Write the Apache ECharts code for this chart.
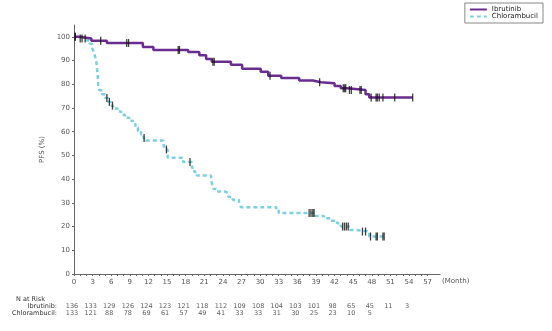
<!DOCTYPE html>
<html>
<head>
<meta charset="utf-8">
<script src="https://cdn.jsdelivr.net/npm/echarts@6/dist/echarts.min.js"></script>
<style>
html,body{margin:0;padding:0;background:#fff;}
#chart{width:552px;height:331px;}
</style>
</head>
<body>
<div id="chart"></div>
<script>
// Kaplan-Meier step points [month, PFS %]
const ibrutinibCurve = [
  [0,100],[0.8,99.3],[2.8,98.4],[5.3,97.4],[11.1,95.7],[12.8,94.5],[18.4,93.6],
  [20.2,92.2],[21.3,90.7],[22.2,89.5],[25.3,88.2],[27.1,86.5],[30.1,85.3],[31.3,83.6],
  [33.4,82.7],[36.3,81.6],[38.5,80.9],[39.8,80.4],[42.0,79.3],[43.0,78.3],[44.1,77.6],
  [47.0,75.8],[47.6,74.4],[54.6,74.4]
];
const ibrutinibCensored = [
  [0.2,100],[1.0,99.3],[1.3,99.3],[1.8,99.3],[4.3,98.4],[8.5,97.4],[8.8,97.4],
  [16.8,94.5],[17.0,94.5],[22.4,89.5],[22.6,89.5],[31.6,83.6],[39.6,80.9],
  [43.4,78.3],[43.6,78.3],[43.8,78.3],[44.4,77.6],[44.7,77.6],[46.1,77.6],[46.3,77.6],
  [47.9,74.4],[48.7,74.4],[48.9,74.4],[49.2,74.4],[49.8,74.4],[51.7,74.4],[54.6,74.4]
];
const chlorambucilCurve = [
  [0,100],[1.0,99.6],[2.0,98.5],[2.5,97.1],[2.9,95.5],[3.2,93.5],[3.4,91.7],[3.6,89.5],
  [3.7,87.0],[3.8,84.5],[3.85,82.0],[3.9,79.6],[4.1,77.5],[4.5,75.8],[5.0,74.2],[5.5,72.6],
  [5.9,71.0],[6.3,69.8],[7.0,68.5],[7.6,67.2],[8.2,65.9],[8.9,64.6],[9.5,63.3],[9.9,61.8],
  [10.3,60.2],[10.8,58.8],[11.2,57.4],[11.6,56.3],[14.4,55.0],[14.6,52.5],[15.1,49.0],
  [17.6,47.2],[19.0,44.8],[19.4,43.0],[19.8,41.5],[22.1,39.5],[22.3,37.5],[22.5,35.8],
  [23.0,34.8],[24.3,34.0],[24.9,32.5],[25.6,31.2],[26.6,30.2],[26.9,28.2],[32.6,27.1],
  [33.0,25.7],[38.9,24.5],[40.3,23.5],[41.3,22.5],[42.4,21.4],[43.0,20.0],[44.5,18.6],
  [45.3,17.9],[47.6,15.8],[50.1,15.8]
];
const chlorambucilCensored = [
  [0.2,100],[5.3,74.2],[5.7,72.6],[6.2,71.0],[11.3,57.4],[14.9,52.5],[18.7,47.2],
  [37.9,25.7],[38.2,25.7],[38.5,25.7],[38.7,25.7],
  [43.3,20.0],[43.6,20.0],[43.9,20.0],[44.2,20.0],
  [46.5,17.9],[47.0,17.9],[47.8,15.8],[48.7,15.8],[48.9,15.8],[49.8,15.8],[50.0,15.8]
];
// Number at risk
const riskMonths = [0,3,6,9,12,15,18,21,24,27,30,33,36,39,42,45,48,51,54];
const ibrutinibRisk = [136,133,129,126,124,123,121,118,112,109,108,104,103,101,98,65,45,11,3];
const chlorambucilRisk = [133,121,88,78,69,61,57,49,41,33,33,31,30,25,23,10,5];
// Axis ticks
const xTickLabels = [0,3,6,9,12,15,18,21,24,27,30,33,36,39,42,45,48,51,54,57];
const xMinorTicks = [0,1,2,3,4,5,6,7,8,9,10,11,12,13,14,15,16,17,18,19,20,21,22,23,24,25,26,27,28,29,30,31,32,33,34,35,36,37,38,39,40,41,42,43,44,45,46,47,48,49,50,51,52,53,54,55,56,57];
const yTickLabels = [0,10,20,30,40,50,60,70,80,90,100];

const FONT = 'DejaVu Sans';
const PURPLE = '#6a2c8e';
const BLUE = '#7fcfe4';
const AXIS = '#666';

const chart = echarts.init(document.getElementById('chart'), null, {renderer:'canvas'});

const hiddenX = (gi) => ({gridIndex:gi, type:'value', min:0, max:59, show:false});
const rowY = (gi, name) => ({
  gridIndex:gi, type:'category', data:[name],
  axisLine:{show:false}, axisTick:{show:false},
  axisLabel:{show:true, margin:17, fontFamily:FONT, fontSize:6.5, color:'#333'}
});
const riskLabel = {
  show:true, position:'inside', offset:[-2,0],
  formatter:(p)=>String(p.value[2]), fontFamily:FONT, fontSize:6.5, color:'#333'
};

chart.setOption({
  animation:false,
  backgroundColor:'#fff',
  title:{
    text:'N at Risk', left:11, top:291,
    textStyle:{fontFamily:FONT, fontSize:6.5, fontWeight:'normal', color:'#333'}
  },
  legend:{
    data:['Ibrutinib','Chlorambucil'],
    orient:'vertical', right:9, top:3,
    borderColor:'#888', borderWidth:1, padding:[3,5,3,4],
    itemGap:0, itemWidth:17, itemHeight:6,
    itemStyle:{opacity:0},
    textStyle:{fontFamily:FONT, fontSize:7, color:'#222'}
  },
  grid:[
    {left:74, right:112, top:25, bottom:57},
    {left:74, right:112, top:305, height:2},
    {left:74, right:112, top:312, height:2}
  ],
  xAxis:[
    {
      gridIndex:0, type:'value', min:0, max:59,
      name:'(Month)', nameLocation:'end', nameGap:2,
      nameTextStyle:{fontFamily:FONT, fontSize:7, color:'#555', verticalAlign:'top', padding:[4,0,0,0]},
      axisLine:{lineStyle:{color:AXIS, width:1}},
      axisTick:{show:true, length:2, lineStyle:{color:AXIS}, customValues:xMinorTicks},
      axisLabel:{fontFamily:FONT, fontSize:7, color:'#555', margin:5, customValues:xTickLabels},
      splitLine:{show:false}
    },
    hiddenX(1), hiddenX(2)
  ],
  yAxis:[
    {
      gridIndex:0, type:'value', min:0, max:105,
      name:'PFS (%)', nameLocation:'middle', nameGap:26,
      nameTextStyle:{fontFamily:FONT, fontSize:7, color:'#555'},
      axisLine:{show:true, lineStyle:{color:AXIS, width:1}},
      axisTick:{show:true, length:2, lineStyle:{color:AXIS}, customValues:yTickLabels},
      axisLabel:{fontFamily:FONT, fontSize:7, color:'#555', margin:4, customValues:yTickLabels},
      splitLine:{show:false}
    },
    rowY(1,'Ibrutinib:'),
    rowY(2,'Chlorambucil:')
  ],
  series:[
    {
      name:'Ibrutinib', type:'line', step:'end', xAxisIndex:0, yAxisIndex:0,
      data:ibrutinibCurve, showSymbol:false, symbol:'none',
      lineStyle:{color:PURPLE, width:2.5}, itemStyle:{color:PURPLE}, z:3
    },
    {
      name:'Chlorambucil', type:'line', step:'end', xAxisIndex:0, yAxisIndex:0,
      data:chlorambucilCurve, showSymbol:false, symbol:'none',
      lineStyle:{color:BLUE, width:2.5, type:[4,3]}, itemStyle:{color:BLUE}, z:2
    },
    {
      name:'Ibrutinib censored', type:'scatter', xAxisIndex:0, yAxisIndex:0,
      data:ibrutinibCensored, symbol:'rect', symbolSize:[1.3,8],
      itemStyle:{color:'#111'}, z:5, silent:true
    },
    {
      name:'Chlorambucil censored', type:'scatter', xAxisIndex:0, yAxisIndex:0,
      data:chlorambucilCensored, symbol:'rect', symbolSize:[1.3,8],
      itemStyle:{color:'#111'}, z:5, silent:true
    },
    {
      name:'Ibrutinib at risk', type:'scatter', xAxisIndex:1, yAxisIndex:1,
      data:riskMonths.slice(0, ibrutinibRisk.length).map((m,i)=>[m,0,ibrutinibRisk[i]]),
      symbolSize:1, itemStyle:{color:'transparent'}, label:riskLabel, silent:true
    },
    {
      name:'Chlorambucil at risk', type:'scatter', xAxisIndex:2, yAxisIndex:2,
      data:riskMonths.slice(0, chlorambucilRisk.length).map((m,i)=>[m,0,chlorambucilRisk[i]]),
      symbolSize:1, itemStyle:{color:'transparent'}, label:riskLabel, silent:true
    }
  ]
});
</script>
</body>
</html>
